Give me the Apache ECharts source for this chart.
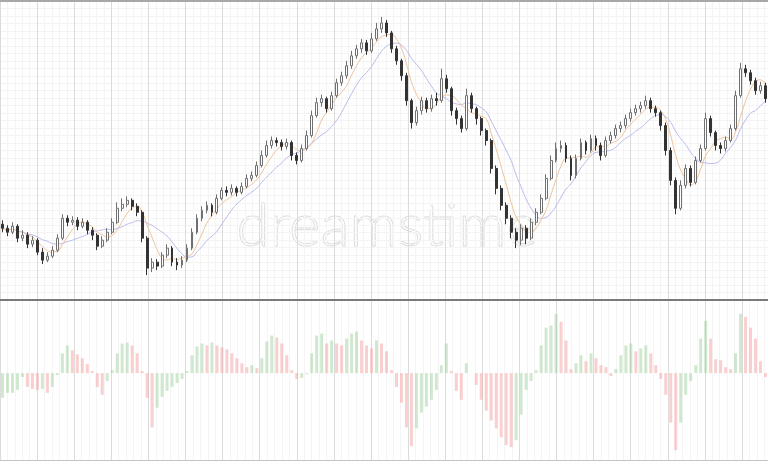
<!DOCTYPE html>
<html><head><meta charset="utf-8">
<script src="https://cdn.jsdelivr.net/npm/echarts@6/dist/echarts.min.js"></script>
<style>html,body{margin:0;padding:0;background:#fff}#c{width:768px;height:461px}</style>
</head><body><div id="c"></div>
<script>
// [open, close, low, high]
const candles = [
[76,72,68,80],[72,68,64,75],[68,74,66,78],[74,62,58,76],[62,65,59,70],[65,56,52,68],[56,60,53,64],[60,48,45,62],
[48,40,36,52],[40,44,38,48],[44,50,42,54],[50,62,48,66],[62,82,60,86],[82,78,74,85],[78,80,75,84],[80,74,70,83],
[74,78,72,82],[78,70,66,80],[70,65,60,73],[65,54,50,67],[54,60,52,64],[60,68,58,72],[68,78,66,82],[78,92,76,98],
[92,96,89,102],[96,100,93,104],[100,94,90,102],[94,88,84,97],[88,62,58,90],[62,32,25,64],[32,38,28,42],[38,34,30,41],
[34,45,32,48],[45,52,42,56],[52,38,34,54],[38,35,30,42],[35,40,32,44],[40,52,38,56],[52,68,50,72],[68,82,66,86],
[82,90,79,94],[90,95,87,99],[95,88,84,97],[88,102,86,106],[102,110,100,113],[110,108,104,114],[108,112,105,116],[112,108,104,114],
[108,114,106,118],[114,122,112,126],[122,125,119,129],[125,135,123,139],[135,145,133,150],[145,155,143,160],[155,160,152,164],[160,158,154,163],
[158,154,150,161],[154,158,151,162],[158,145,140,160],[145,140,136,148],[140,152,138,156],[152,165,150,170],[165,185,163,190],[185,198,183,203],
[198,202,194,206],[202,192,188,204],[192,205,190,209],[205,218,203,222],[218,225,215,229],[225,235,222,240],[235,245,232,250],[245,252,242,256],
[252,258,248,262],[258,250,246,261],[250,262,248,268],[262,272,260,278],[272,278,268,284],[278,268,264,281],[268,252,248,270],[252,240,236,255],
[240,225,220,242],[225,200,195,228],[200,178,172,202],[178,190,175,194],[190,200,186,204],[200,192,188,203],[192,202,189,206],[202,200,195,208],
[200,222,198,232],[222,212,208,226],[212,190,185,214],[190,182,176,193],[182,172,168,185],[172,205,170,212],[205,192,188,208],[192,182,176,194],
[182,170,165,184],[170,160,155,172],[160,132,127,162],[132,112,106,135],[112,95,90,115],[95,82,76,98],[82,68,62,85],[68,60,52,72],
[60,72,55,76],[72,62,56,75],[62,78,60,82],[78,88,75,92],[88,102,86,106],[102,122,100,126],[122,140,120,145],[140,152,138,158],
[152,155,148,160],[155,142,138,158],[142,125,120,145],[125,142,122,146],[142,158,140,162],[158,150,146,160],[150,162,148,166],[162,155,150,165],
[155,145,140,158],[145,160,143,164],[160,165,157,169],[165,172,162,176],[172,175,168,179],[175,182,172,186],[182,188,179,192],[188,192,185,196],
[192,195,188,199],[195,200,192,205],[200,192,188,203],[192,188,184,195],[188,175,170,190],[175,150,145,178],[150,120,115,153],[120,92,86,123],
[92,115,90,120],[115,132,112,136],[132,118,114,135],[118,140,116,144],[140,152,138,156],[152,182,150,188],[182,168,164,185],[168,155,150,170],
[155,152,147,158],[152,160,149,164],[160,172,158,176],[172,205,170,210],[205,232,203,238],[232,228,224,236],[228,220,216,231],[220,210,206,223],
[210,215,207,219],[215,202,198,218]
];
const histogram = [
-25,-20,-20,-17,-4,-14,-16,-17,-16,-20,-14,-2,20,28,23,19,15,9,2,-14,-22,-8,3,20,30,31,28,20,2,-25,
-55,-35,-24,-18,-14,-10,-6,2,18,27,30,28,31,28,26,24,20,15,10,6,8,5,15,32,38,36,30,18,3,-6,
-5,-1,20,38,40,30,33,30,28,35,40,42,33,28,25,33,30,22,3,-14,-30,-55,-74,-56,-40,-34,-27,-17,8,30,
2,-18,-27,10,0,-12,-27,-38,-48,-56,-65,-73,-75,-68,-42,-17,-8,3,28,46,48,60,52,33,4,10,18,12,20,15,
8,6,-3,4,18,28,30,22,25,28,20,8,-6,-22,-50,-78,-50,-22,-8,8,35,53,35,14,13,6,4,20,60,57,46,35,12,-4
];
const maShortLen = 5;
const maLongLen = 10;
const categories = candles.map((_, i) => 'P' + (i + 1));

function movingAverage(n) {
  return candles.map((_, i) => {
    const s = Math.max(0, i - n + 1);
    let sum = 0;
    for (let k = s; k <= i; k++) sum += candles[k][1];
    return +(sum / (i - s + 1)).toFixed(2);
  });
}

const chart = echarts.init(document.getElementById('c'), null, {renderer: 'canvas'});
const minorX = (gridIndex, color) => ({
  type: 'value', gridIndex, min: -2.9, max: 765.1, interval: 7.42,
  axisLabel: {show: false}, axisTick: {show: false}, axisLine: {show: false},
  splitLine: {show: true, lineStyle: {color, width: 1}}
});
const majorX = (gridIndex, color) => ({
  type: 'value', gridIndex, min: -2.9, max: 765.1, interval: 37.1,
  axisLabel: {show: false}, axisTick: {show: false}, axisLine: {show: false},
  splitLine: {show: true, lineStyle: {color, width: 1}}
});

chart.setOption({
  animation: false,
  backgroundColor: '#ffffff',
  graphic: [{
    type: 'text', left: 236, top: 196, z: 0, silent: true,
    style: {text: 'dreamstime', font: '300 60px Lato', fill: 'rgba(255,255,255,0)', stroke: '#dddddd', lineWidth: 1, width: 340, overflow: 'none'}
  }],
  grid: [
    {left: 0, right: 0, top: 1, height: 299},
    {left: 0, right: 0, top: 301, height: 159}
  ],
  xAxis: [
    {type: 'category', gridIndex: 0, data: categories, boundaryGap: true,
     axisLabel: {show: false}, axisTick: {show: false},
     axisLine: {show: true, onZero: false, lineStyle: {color: '#7a7a7a', width: 2}}, splitLine: {show: false}},
    minorX(0, '#f4f4f4'),
    Object.assign(majorX(0, '#dcdcdc'), {position: 'top', axisLine: {show: true, lineStyle: {color: '#a8a8a8', width: 2}}}),
    {type: 'category', gridIndex: 1, data: categories, boundaryGap: true,
     axisLabel: {show: false}, axisTick: {show: false},
     axisLine: {show: true, onZero: false, lineStyle: {color: '#c4c4c4', width: 1}}, splitLine: {show: false}},
    minorX(1, '#f4f4f4'),
    majorX(1, '#dcdcdc')
  ],
  yAxis: [
    {type: 'value', gridIndex: 0, min: 0, max: 300, interval: 7.5,
     axisLabel: {show: false}, axisTick: {show: false}, axisLine: {show: false},
     splitLine: {show: true, lineStyle: {color: '#f4f4f4'}}},
    {type: 'value', gridIndex: 1, min: -88, max: 73,
     axisLabel: {show: false}, axisTick: {show: false}, axisLine: {show: false},
     splitLine: {show: false}}
  ],
  series: [
    {type: 'line', xAxisIndex: 0, yAxisIndex: 0, data: movingAverage(maLongLen), showSymbol: false,
     smooth: true, lineStyle: {color: '#b9b9ee', width: 1}, z: 3},
    {type: 'line', xAxisIndex: 0, yAxisIndex: 0, data: movingAverage(maShortLen), showSymbol: false,
     smooth: true, lineStyle: {color: '#efc297', width: 1}, z: 3},
    {type: 'candlestick', xAxisIndex: 0, yAxisIndex: 0, data: candles, barWidth: '48%', z: 4,
     itemStyle: {color: '#ffffff', color0: '#333333', borderColor: '#707070', borderColor0: '#333333', borderWidth: 1}},
    {type: 'bar', xAxisIndex: 3, yAxisIndex: 1, data: histogram, barCategoryGap: '40%',
     itemStyle: {color: p => (p.dataIndex > 0 && histogram[p.dataIndex] < histogram[p.dataIndex - 1]) ? 'rgba(244,160,160,0.5)' : 'rgba(150,205,150,0.45)'}}
  ]
});
</script></body></html>
